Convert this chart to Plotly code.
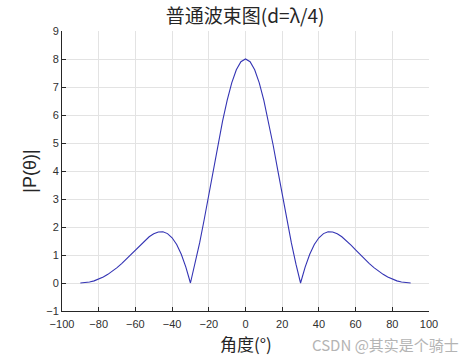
import plotly.graph_objects as go

# Angles (degrees) and beam pattern magnitude
theta_pos = [0, 2.5, 5, 7.5, 10, 12.5, 15, 17.5, 20, 22.5, 25, 27.5, 30,
             32.5, 35, 37.5, 40, 42.5, 45, 47.5, 50, 52.5, 55, 57.5, 60,
             62.5, 65, 67.5, 70, 72.5, 75, 77.5, 80, 82.5, 85, 87.5, 90]
p_pos = [8.0, 7.902, 7.613, 7.146, 6.523, 5.781, 4.946, 4.059, 3.156, 2.268,
         1.432, 0.670, 0.0, 0.567, 1.024, 1.373, 1.616, 1.764, 1.828, 1.822,
         1.758, 1.651, 1.512, 1.354, 1.186, 1.015, 0.849, 0.692, 0.550, 0.421,
         0.309, 0.214, 0.1365, 0.0766, 0.034, 0.0085, 0.0]

theta = [-t for t in theta_pos[:0:-1]] + theta_pos
p_vals = p_pos[:0:-1] + p_pos

x_ticks = [-100, -80, -60, -40, -20, 0, 20, 40, 60, 80, 100]
y_ticks = [-1, 0, 1, 2, 3, 4, 5, 6, 7, 8, 9]

title_text = "普通波束图(d=λ/4)"
x_label = "角度(°)"
y_label = "|P(θ)|"
watermark = "CSDN @其实是个骑士"

fig = go.Figure()
fig.add_trace(go.Scatter(x=theta, y=p_vals, mode="lines",
                         line=dict(color="#3434b4", width=1.1, shape="linear"),
                         showlegend=False, hoverinfo="skip"))

axis_common = dict(showgrid=True, gridcolor="#e3e3e3", gridwidth=1,
                   zeroline=False, showline=True, linecolor="#262626",
                   linewidth=1, ticks="inside", ticklen=4, tickcolor="#262626",
                   tickfont=dict(family="Liberation Sans, Arial", size=11, color="#303030"),
                   mirror=False)

fig.update_layout(
    width=474, height=355,
    margin=dict(l=62, r=45, t=31, b=44),
    paper_bgcolor="white", plot_bgcolor="white",
    xaxis=dict(range=[-100, 100], tickvals=x_ticks, ticklabelstandoff=3, **axis_common),
    yaxis=dict(range=[-1, 9], tickvals=y_ticks, **axis_common),
    title=dict(text=title_text, x=0.517, xanchor="center", y=0.955,
               yanchor="middle", yref="container",
               font=dict(family="Noto Sans CJK SC, Liberation Sans", size=19, color="#262626")),
    annotations=[
        dict(text=x_label, xref="paper", yref="paper", x=0.5, y=-0.115,
             xanchor="center", yanchor="middle", showarrow=False,
             font=dict(family="Noto Sans CJK SC, Liberation Sans", size=17, color="#262626")),
        dict(text=y_label, xref="paper", yref="paper", x=-0.088, y=0.5,
             xanchor="center", yanchor="middle", textangle=-90, showarrow=False,
             font=dict(family="Liberation Sans, Arial", size=18, color="#262626")),
        dict(text=watermark, xref="paper", yref="paper", x=1.088, y=-0.118,
             xanchor="right", yanchor="middle", showarrow=False,
             font=dict(family="Noto Sans CJK SC, Liberation Sans", size=15, color="#b4b4b4")),
    ],
)

fig.write_html("out.html")
